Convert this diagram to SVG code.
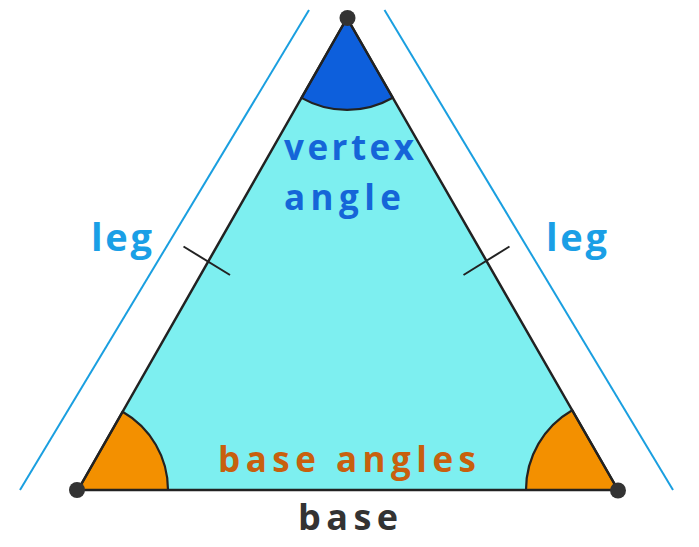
<svg xmlns="http://www.w3.org/2000/svg" width="699" height="547" viewBox="0 0 699 547">
  <style>
    .edge { stroke: #222222; stroke-width: 2.5; fill: none; stroke-linejoin: round; }
    .wedge { stroke: #222222; stroke-width: 2.2; }
    .dot { fill: #333333; }
    .guide { stroke: #1A9FE0; stroke-width: 2; fill: none; }
    .tick { stroke: #222222; stroke-width: 2; }
    .lbl { font-family: "Open Sans", "DejaVu Sans", sans-serif; font-weight: 700; }
  </style>
  <rect width="699" height="547" fill="#FFFFFF"/>

  <g id="triangle">
    <polygon points="78,490 347,18 618,490" fill="#7DEFF0"/>
  </g>

  <g id="vertex-angle">
    <path class="wedge" d="M347,18 L301.5,97.9 A92,92 0 0 0 392.8,97.8 Z" fill="#0D5FDC"/>
  </g>

  <g id="base-angle-left">
    <path class="wedge" d="M78,490 L168,490 A90,90 0 0 0 122.6,411.8 Z" fill="#F39000"/>
  </g>

  <g id="base-angle-right">
    <path class="wedge" d="M618,490 L526,490 A92,92 0 0 1 572.2,410.2 Z" fill="#F39000"/>
  </g>

  <g id="connectors">
    <polygon class="edge" points="78,490 347,18 618,490"/>
    <line class="tick" x1="183.5" y1="246.5" x2="230" y2="275"/>
    <line class="tick" x1="463.5" y1="275" x2="509.5" y2="246.5"/>
    <line class="guide" x1="309" y1="10" x2="20" y2="490"/>
    <line class="guide" x1="384.5" y1="10" x2="673" y2="490"/>
  </g>

  <g id="vertices">
    <circle class="dot" cx="347.5" cy="18" r="8"/>
    <circle class="dot" cx="77" cy="490" r="8"/>
    <circle class="dot" cx="618" cy="490.5" r="8"/>
  </g>

  <g id="labels">
    <text class="lbl" x="284" y="160" font-size="35" fill="#1565D8" textLength="130" lengthAdjust="spacing">vertex</text>
    <text class="lbl" x="284" y="210" font-size="35" fill="#1565D8" textLength="117" lengthAdjust="spacing">angle</text>
    <text class="lbl" x="91" y="251" font-size="38" fill="#1A9FE6" textLength="61" lengthAdjust="spacing">leg</text>
    <text class="lbl" x="546" y="251" font-size="38" fill="#1A9FE6" textLength="61" lengthAdjust="spacing">leg</text>
    <text class="lbl" x="218" y="472" font-size="35" fill="#C8600E" textLength="258" lengthAdjust="spacing">base angles</text>
    <text class="lbl" x="298" y="530" font-size="36" fill="#333333" textLength="100" lengthAdjust="spacing">base</text>
  </g>
</svg>
